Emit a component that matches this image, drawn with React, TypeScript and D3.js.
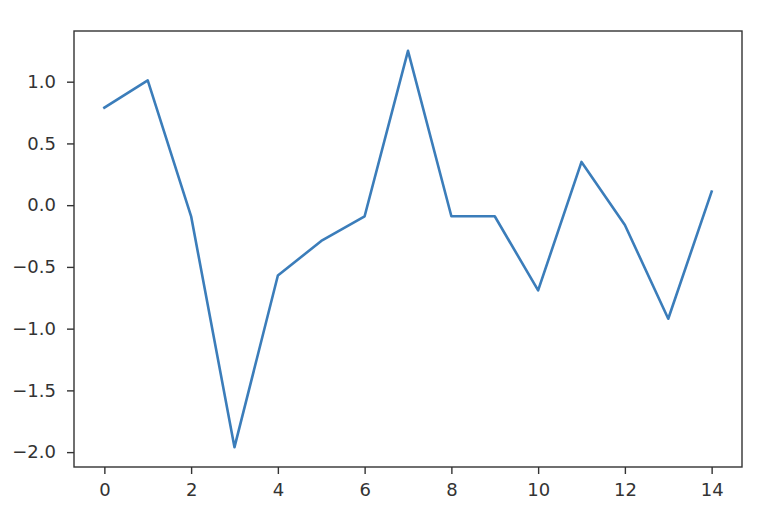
import { useEffect, useRef } from 'react';
import * as d3 from 'd3';

// ── Data ──

const xs: number[] = [0, 1, 2, 3, 4, 5, 6, 7, 8, 9, 10, 11, 12, 13, 14];
const ys: number[] = [
  0.79, 1.01, -0.09, -1.96, -0.57, -0.29, -0.09, 1.25, -0.09, -0.09, -0.69, 0.35, -0.16, -0.92, 0.11,
];
const xTicks: number[] = [0, 2, 4, 6, 8, 10, 12, 14];
const yTicks: number[] = [-2.0, -1.5, -1.0, -0.5, 0.0, 0.5, 1.0];

const W = 772;
const H = 526;
const M = { left: 74, right: 30, top: 31, bottom: 59 };
const LINE = '#3b7dba';
const INK = '#333';
const FONT = '"DejaVu Sans", sans-serif';

export default function App() {
  const svgRef = useRef<SVGSVGElement>(null);

  useEffect(() => {
    const svgEl = svgRef.current;
    if (!svgEl) return;
    const svg = d3.select(svgEl);
    svg.selectAll('*').remove();

    const x0 = M.left;
    const x1 = W - M.right;
    const y0 = H - M.bottom;
    const y1 = M.top;

    // matplotlib-style 5% margins
    const [xmin, xmax] = d3.extent(xs) as [number, number];
    const [ymin, ymax] = d3.extent(ys) as [number, number];
    const xpad = (xmax - xmin) * 0.05;
    const ypad = (ymax - ymin) * 0.05;

    const x = d3.scaleLinear().domain([xmin - xpad, xmax + xpad]).range([x0, x1]);
    const y = d3.scaleLinear().domain([ymin - ypad, ymax + ypad]).range([y0, y1]);

    // Line
    const line = d3
      .line<number>()
      .x((_, i) => x(xs[i]))
      .y((d) => y(d));
    svg
      .append('path')
      .datum(ys)
      .attr('fill', 'none')
      .attr('stroke', LINE)
      .attr('stroke-width', 2.6)
      .attr('stroke-linejoin', 'round')
      .attr('stroke-linecap', 'square')
      .attr('d', line);

    // Axes
    const xAxis = d3
      .axisBottom(x)
      .tickValues(xTicks)
      .tickSize(7)
      .tickPadding(9)
      .tickFormat((d) => String(d));
    const yAxis = d3
      .axisLeft(y)
      .tickValues(yTicks)
      .tickSize(7)
      .tickPadding(11)
      .tickFormat((d) => d3.format('.1f')(d as number).replace('-', '\u2212'));

    const gx = svg.append('g').attr('transform', `translate(0,${y0})`).call(xAxis);
    const gy = svg.append('g').attr('transform', `translate(${x0},0)`).call(yAxis);

    [gx, gy].forEach((g) => {
      g.select('.domain').remove();
      g.selectAll('.tick line').attr('stroke', INK).attr('stroke-width', 1.4);
      g.selectAll('.tick text')
        .attr('fill', INK)
        .attr('font-size', '18px')
        .attr('font-family', FONT);
    });

    // Frame (spines)
    svg
      .append('rect')
      .attr('x', x0)
      .attr('y', y1)
      .attr('width', x1 - x0)
      .attr('height', y0 - y1)
      .attr('fill', 'none')
      .attr('stroke', INK)
      .attr('stroke-width', 1.4);
  }, []);

  return (
    <svg
      ref={svgRef}
      width={W}
      height={H}
      style={{ position: 'absolute', left: 0, top: 0, background: '#fff', display: 'block' }}
    />
  );
}
